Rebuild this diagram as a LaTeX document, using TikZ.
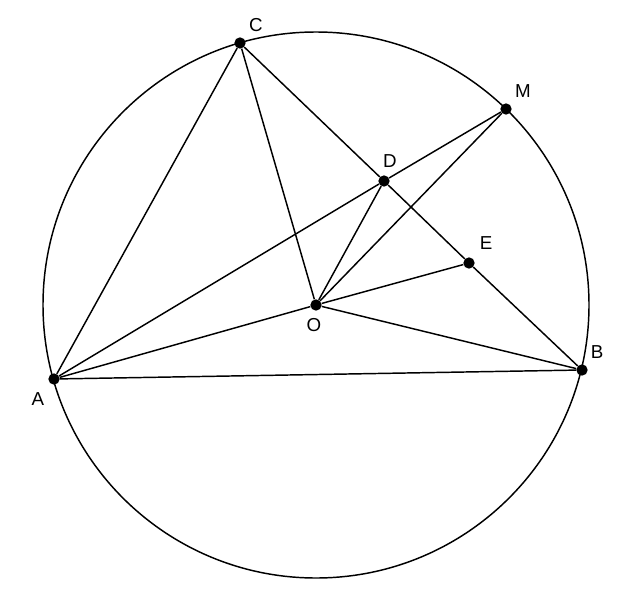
\documentclass[tikz,border=0pt]{standalone}
\usepackage{fontspec}
\setmainfont{Liberation Sans}

\begin{document}
\begin{tikzpicture}[x=0.03cm,y=-0.03cm]
\tikzset{pt/.style = {shape=circle,fill,inner sep=0pt,minimum size=0.34cm}}
\tikzset{lbl/.style = {font=\fontsize{16}{19}\selectfont}}
\tikzset{seg/.style = {line width=1.25pt}}
\useasboundingbox (0,0) rectangle (617,589);
\node[pt] (O) at (316,305) {};
\node[pt] (A) at (54,379) {};
\node[pt] (B) at (582,370) {};
\node[pt] (C) at (240,43) {};
\node[pt] (M) at (506,109) {};
\node[pt] (D) at (384,181) {};
\node[pt] (E) at (469,263) {};

\node[lbl] (lO) at (314,325) {O};
\node[lbl] (lA) at (38,399) {A};
\node[lbl] (lB) at (597,352) {B};
\node[lbl] (lC) at (256,25) {C};
\node[lbl] (lM) at (523,91) {M};
\node[lbl] (lD) at (390,161) {D};
\node[lbl] (lE) at (486,243) {E};

\draw[seg] (O.center) circle [radius=273];
\draw[seg] (A) -- (C);
\draw[seg] (A) -- (B);
\draw[seg] (A) -- (O);
\draw[seg] (A) -- (D);
\draw[seg] (D) -- (M);
\draw[seg] (C) -- (D);
\draw[seg] (D) -- (E);
\draw[seg] (E) -- (B);
\draw[seg] (C) -- (O);
\draw[seg] (O) -- (D);
\draw[seg] (O) -- (M);
\draw[seg] (O) -- (E);
\draw[seg] (O) -- (B);
\end{tikzpicture}
\end{document}
